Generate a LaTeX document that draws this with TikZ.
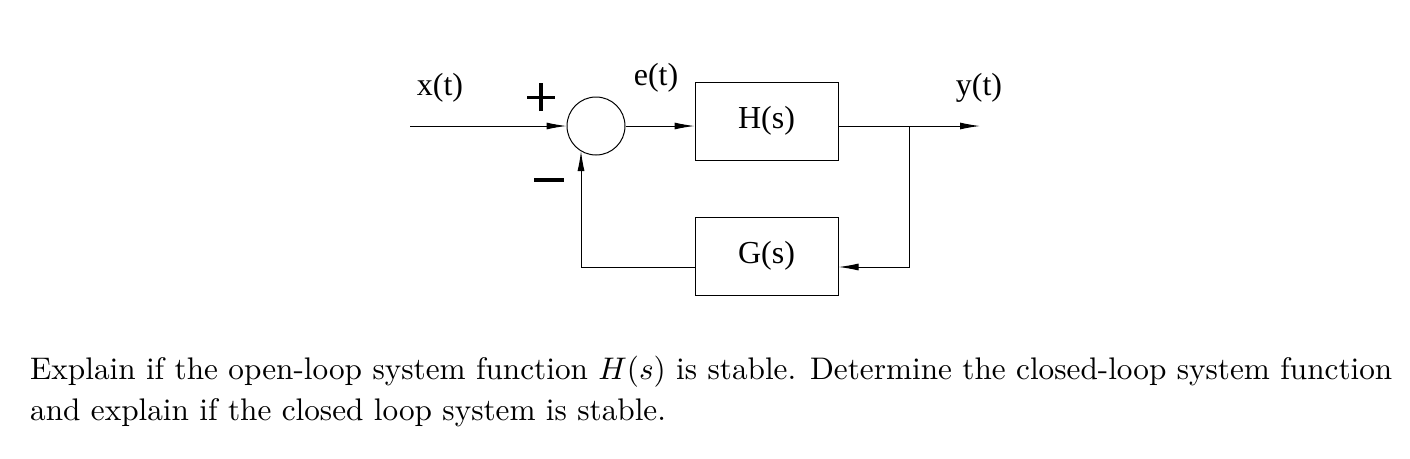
\documentclass[tikz,border=0pt]{standalone}
\usepackage{fontspec}
\newfontfamily\tms{Liberation Serif}
\usetikzlibrary{arrows.meta}
\begin{document}
\begin{tikzpicture}[x=1pt,y=-1pt,
  lbl/.style={font=\tms\fontsize{32}{36}\selectfont},
  blk/.style={draw,line width=1pt,minimum width=143pt,minimum height=78pt,inner sep=0pt,lbl},
  ln/.style={line width=1pt},
  arr/.style={ln,-{Latex[length=20pt,width=7pt]}}]
\useasboundingbox (0,0) rectangle (1410,458);
\node[blk] (H) at (766.5,121) {H(s)};
\node[blk] (G) at (766.5,256) {G(s)};
\node[draw,circle,line width=1pt,minimum size=58pt,inner sep=0pt] (S) at (596,126) {};
\coordinate (in) at (410,126);
\coordinate (out) at (980,126);
\coordinate (br) at (909,126);
\coordinate (bd) at (909,267);
\coordinate (gl) at (581,267);
\coordinate (sb) at (581,151);
\draw[arr] (in) -- (S.west);
\draw[arr] (S.east) -- (H.west |- S);
\draw[arr] (H.east |- S) -- (out);
\draw[arr] (br) -- (bd) -- (G.east |- bd);
\draw[arr] (G.west |- bd) -- (gl) -- (sb);
\node[lbl] (xl) at (440,88) {x(t)};
\node[lbl] (el) at (656,78) {e(t)};
\node[lbl] (yl) at (979,88) {y(t)};
\node[inner sep=0pt] (pl) at (541,97) {\rule[12pt]{28pt}{3.5pt}\kern-15.75pt\rule{3.5pt}{28pt}\kern12.25pt};
\node[inner sep=0pt] (mi) at (549,180) {\rule{30pt}{3.5pt}};
\node[anchor=north west,inner sep=0pt] (t) at (30,350)
{\resizebox{1362pt}{!}{\fontsize{10}{12}\selectfont\renewcommand{\arraystretch}{1.1}\begin{tabular}{@{}l@{}}Explain if the open-loop system function $H(s)$ is stable. Determine the closed-loop system function\\ and explain if the closed loop system is stable.\end{tabular}}};
\end{tikzpicture}
\end{document}
